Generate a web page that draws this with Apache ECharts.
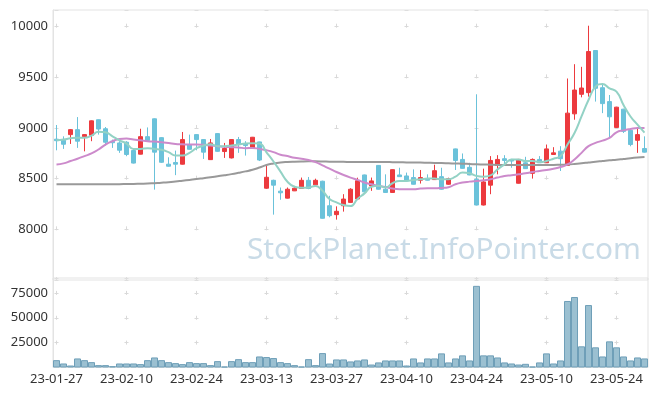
<!DOCTYPE html>
<html>
<head>
<meta charset="utf-8">
<script src="https://cdn.jsdelivr.net/npm/echarts@6/dist/echarts.min.js"></script>
<style>
html,body{margin:0;padding:0;background:#fff;}
#c{width:657px;height:396px;}
</style>
</head>
<body>
<div id="c"></div>
<script>
const dates = ['23-01-27','23-01-30','23-01-31','23-02-01','23-02-02','23-02-03','23-02-06','23-02-07','23-02-08','23-02-09',
'23-02-10','23-02-13','23-02-14','23-02-15','23-02-16','23-02-17','23-02-20','23-02-21','23-02-22','23-02-23',
'23-02-24','23-02-27','23-02-28','23-03-02','23-03-03','23-03-06','23-03-07','23-03-08','23-03-09','23-03-10',
'23-03-13','23-03-14','23-03-15','23-03-16','23-03-17','23-03-20','23-03-21','23-03-22','23-03-23','23-03-24',
'23-03-27','23-03-28','23-03-29','23-03-30','23-03-31','23-04-03','23-04-04','23-04-05','23-04-06','23-04-07',
'23-04-10','23-04-11','23-04-12','23-04-13','23-04-14','23-04-17','23-04-18','23-04-19','23-04-20','23-04-21',
'23-04-24','23-04-25','23-04-26','23-04-27','23-04-28','23-05-02','23-05-03','23-05-04','23-05-08','23-05-09',
'23-05-10','23-05-11','23-05-12','23-05-15','23-05-16','23-05-17','23-05-18','23-05-19','23-05-22','23-05-23',
'23-05-24','23-05-25','23-05-26','23-05-30','23-05-31'];

const openP = [8890,8879,8935,8984,8915,8928,9082,8993,8870,8853,
8860,8778,8742,8915,9091,8905,8643,8660,8643,8837,
8935,8886,8688,8945,8768,8705,8886,8847,8804,8863,
8406,8484,8377,8308,8380,8403,8484,8439,8475,8233,
8145,8233,8266,8300,8537,8429,8631,8396,8364,8537,
8527,8511,8485,8498,8491,8520,8445,8794,8690,8612,
8494,8240,8436,8631,8697,8690,8455,8657,8553,8690,
8657,8739,8772,8631,9140,9333,9349,9765,9398,9261,
9006,9186,8977,8879,8798];
const closeP = [8875,8840,8984,8870,8935,9071,8990,8860,8855,8781,
8739,8654,8915,8876,8762,8662,8623,8643,8886,8790,
8886,8762,8853,8770,8798,8886,8837,8827,8909,8684,
8514,8436,8361,8396,8406,8484,8403,8484,8109,8135,
8178,8299,8396,8480,8370,8478,8396,8364,8589,8520,
8478,8445,8511,8485,8579,8396,8501,8680,8602,8537,
8240,8468,8680,8690,8680,8674,8690,8599,8690,8657,
8794,8755,8697,9147,9375,9395,9755,9392,9241,9111,
9206,8967,8837,8935,8762];
const lowP = [8780,8794,8843,8804,8770,8870,8935,8827,8804,8755,
8722,8650,8740,8870,8392,8655,8620,8535,8640,8788,
8780,8695,8685,8765,8705,8700,8755,8728,8800,8674,
8400,8145,8292,8305,8378,8400,8396,8436,8105,8119,
8096,8175,8262,8295,8364,8380,8392,8360,8360,8518,
8475,8442,8452,8482,8488,8392,8440,8586,8598,8534,
8236,8236,8347,8543,8641,8608,8452,8596,8501,8655,
8655,8737,8576,8628,9082,9303,9310,9261,9147,8902,
9000,8951,8820,8755,8758];
const highP = [9030,8918,8990,9108,8940,9075,9085,9010,8886,8870,
8870,8795,8993,9006,9095,8910,8711,8777,8961,8935,
8940,8890,8892,8950,8853,8890,8912,8870,8912,8865,
8641,8490,8413,8413,8429,8511,8517,8500,8480,8331,
8227,8347,8406,8510,8540,8511,8635,8543,8592,8608,
8560,8592,8586,8543,8638,8608,8510,8797,8749,8657,
9333,8599,8723,8732,8732,8695,8695,8716,8700,8723,
8837,8811,8821,9489,9630,9604,10010,9770,9440,9326,
9210,9190,8980,9000,8918];
const volume = [7400,4050,2000,9100,7400,5400,2400,2400,1350,4050,
4050,4050,3400,7400,10100,7400,5400,4400,3400,5400,
4400,4400,2400,6400,1000,6400,8400,5400,5400,11100,
10500,9500,5400,4400,2400,1000,8400,2400,14500,4000,
8100,8100,6100,7100,8100,3000,5100,7100,7100,7100,
2000,9100,5100,9100,9100,14200,5100,9100,12200,7100,
82100,12200,12200,10100,5100,4050,3000,3700,1000,5100,
14200,4050,7100,66900,70900,21300,62800,20300,11100,26300,
20300,11100,7100,10100,9100];
const ma5 = [8879,8886,8899,8905,8903,8925,8964,8958,8918,8879,
8847,8794,8794,8801,8794,8785,8762,8729,8729,8755,
8801,8827,8840,8821,8821,8827,8837,8847,8850,8847,
8760,8670,8570,8470,8420,8410,8413,8429,8380,8299,
8266,8240,8230,8300,8355,8420,8430,8413,8455,8478,
8478,8488,8494,8501,8501,8494,8494,8520,8560,8553,
8527,8520,8533,8592,8641,8690,8690,8674,8674,8664,
8674,8697,8723,8837,8951,9114,9277,9408,9434,9392,
9359,9228,9114,9033,8955];
const ma20 = [8641,8651,8674,8697,8723,8749,8788,8837,8870,8892,
8896,8886,8879,8870,8866,8860,8853,8843,8840,8837,
8837,8834,8827,8821,8814,8811,8808,8801,8804,8794,
8781,8762,8736,8723,8706,8697,8684,8664,8631,8599,
8566,8537,8511,8488,8462,8445,8429,8419,8403,8396,
8396,8396,8403,8406,8406,8409,8416,8445,8462,8471,
8478,8485,8494,8511,8527,8533,8543,8553,8566,8576,
8586,8599,8615,8641,8690,8755,8821,8853,8876,8902,
8958,8977,8990,9000,9000];
const ma60 = [8445,8445,8445,8445,8445,8445,8445,8446,8446,8446,
8447,8448,8450,8452,8456,8460,8465,8472,8480,8488,
8496,8505,8514,8524,8534,8545,8558,8572,8588,8610,
8635,8650,8660,8665,8668,8670,8671,8671,8670,8668,
8667,8666,8665,8664,8664,8664,8664,8664,8663,8662,
8661,8660,8659,8657,8655,8654,8652,8650,8648,8645,
8642,8640,8638,8636,8635,8634,8634,8634,8634,8634,
8635,8636,8638,8640,8645,8652,8660,8668,8675,8682,
8688,8695,8702,8708,8713];
const watermark = 'StockPlanet.InfoPointer.com';

const candleData = dates.map((d, i) => [openP[i], closeP[i], lowP[i], highP[i]]);

const chart = echarts.init(document.getElementById('c'), null, {renderer: 'canvas'});
const gridLine = '#e3e3e3';
const crossColor = '#d9d9d9';
const labelStyle = {color: '#333', fontFamily: 'Noto Sans', fontSize: 13};
const plain = v => String(v);

chart.setOption({
  animation: false,
  backgroundColor: '#fff',
  graphic: [{
    type: 'text', left: 247, top: 236, z: 0,
    style: {text: watermark, fill: '#c9dbe7', font: '29.8px "Noto Sans"'}
  }],
  grid: [
    {left: 53, top: 10, width: 595, height: 270, show: true, borderColor: gridLine, borderWidth: 1, z: 1},
    {left: 53, top: 278, width: 595, height: 89.5, show: true, borderColor: gridLine, borderWidth: 1, z: 1}
  ],
  xAxis: [
    {type: 'category', gridIndex: 0, data: dates, boundaryGap: true,
     axisLine: {show: false}, axisTick: {show: false}, axisLabel: {show: false},
     splitLine: {show: true, interval: 9, alignWithLabel: true,
       lineStyle: {color: crossColor, width: 1, type: [4, 46.66], dashOffset: 36.96}}},
    {type: 'category', gridIndex: 1, data: dates, boundaryGap: true,
     axisLine: {show: false}, axisTick: {show: false},
     axisLabel: Object.assign({interval: 9, margin: 5}, labelStyle),
     splitLine: {show: true, interval: 9, alignWithLabel: true,
       lineStyle: {color: crossColor, width: 1, type: [4, 20.86], dashOffset: 11.96}}}
  ],
  yAxis: [
    {type: 'value', gridIndex: 0, min: 7500, max: 10165, interval: 500,
     axisLine: {show: true, lineStyle: {color: gridLine}}, axisTick: {show: false},
     axisLabel: Object.assign({margin: 5, showMinLabel: false, showMaxLabel: false, formatter: plain}, labelStyle),
     splitLine: {show: true, lineStyle: {color: crossColor, width: 1, type: [4, 66], dashOffset: 68.5}}},
    {type: 'value', gridIndex: 1, min: 0, max: 90000, interval: 25000,
     axisLine: {show: true, lineStyle: {color: gridLine}}, axisTick: {show: false},
     axisLabel: Object.assign({margin: 5, showMinLabel: false, showMaxLabel: false, formatter: plain}, labelStyle),
     splitLine: {show: true, lineStyle: {color: crossColor, width: 1, type: [4, 66], dashOffset: 68.5}}}
  ],
  series: [
    {type: 'candlestick', name: 'price', xAxisIndex: 0, yAxisIndex: 0, data: candleData, barWidth: '70%', z: 3,
     itemStyle: {color: '#ec3a3e', color0: '#6bc2da', borderColor: '#ec3a3e', borderColor0: '#6bc2da', borderWidth: 1}},
    {type: 'line', name: 'MA60', xAxisIndex: 0, yAxisIndex: 0, data: ma60, smooth: true, symbol: 'none', z: 4,
     lineStyle: {color: '#999999', width: 2}},
    {type: 'line', name: 'MA20', xAxisIndex: 0, yAxisIndex: 0, data: ma20, smooth: true, symbol: 'none', z: 4,
     lineStyle: {color: '#cc8acb', width: 2}},
    {type: 'line', name: 'MA5', xAxisIndex: 0, yAxisIndex: 0, data: ma5, smooth: true, symbol: 'none', z: 4,
     lineStyle: {color: '#93d2c5', width: 2}},
    {type: 'bar', name: 'volume', xAxisIndex: 1, yAxisIndex: 1, data: volume, barWidth: '100%', z: 3,
     itemStyle: {color: '#9bc0d1', borderColor: '#6f9fb8', borderWidth: 1}}
  ]
});
</script>
</body>
</html>
